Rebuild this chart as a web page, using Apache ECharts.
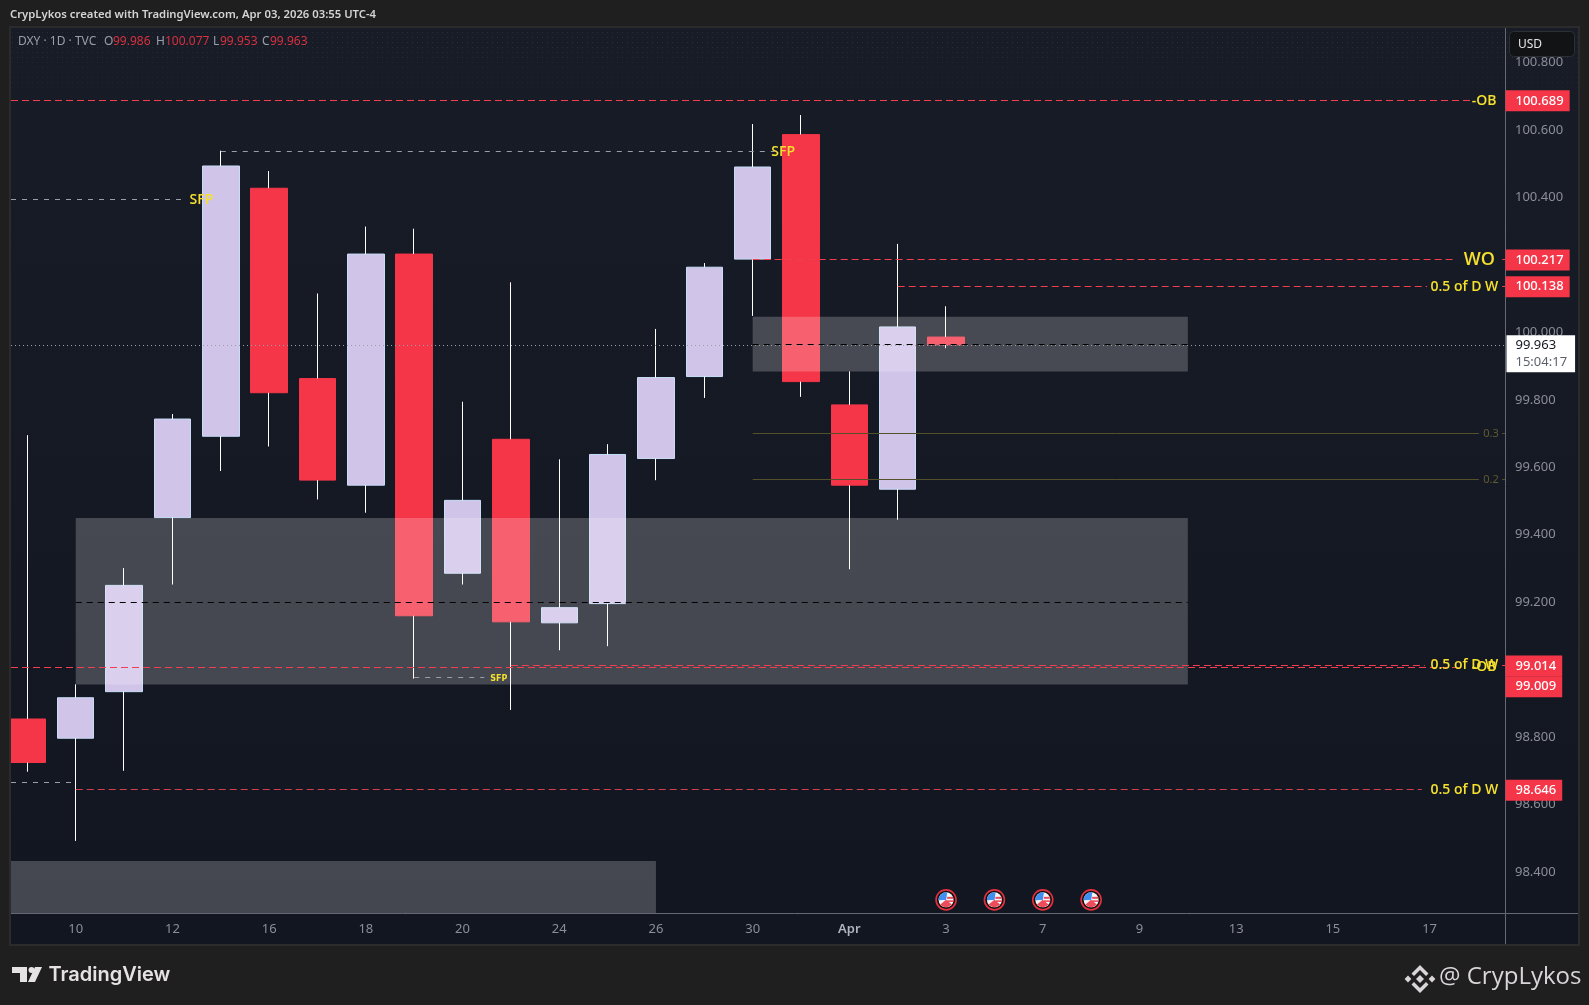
<!DOCTYPE html>
<html><head><meta charset="utf-8">
<style>html,body{margin:0;padding:0;background:#1f1f1f}#c{width:1589px;height:1005px}</style>
<script src="https://cdn.jsdelivr.net/npm/echarts@6/dist/echarts.min.js"></script>
</head><body><div id="c"></div>
<script>
// ---------- data ----------
const dateLabels = ['9','10','11','12','13','16','17','18','19','20','23','24','25','26','27','30','31','Apr','2','3','6','7','8','9','10','13','14','15','16','17','20'];
const opens  = [98.854,98.797,98.935,99.451,99.692,100.427,99.863,99.547,100.232,99.286,99.683,99.139,99.196,99.626,99.869,100.217,100.586,99.785,99.535,99.986];
const closes = [98.725,98.917,99.250,99.743,100.493,99.821,99.562,100.232,99.160,99.502,99.142,99.184,99.638,99.866,100.193,100.490,99.854,99.547,100.016,99.963];
const lows   = [98.698,98.493,98.701,99.253,99.589,99.662,99.505,99.466,98.974,99.253,98.881,99.058,99.070,99.562,99.806,100.049,99.809,99.298,99.445,99.953];
const highs  = [99.695,98.956,99.301,99.758,100.538,100.478,100.115,100.313,100.307,99.794,100.148,99.623,99.668,100.010,100.205,100.617,100.644,99.884,100.262,100.077];
const priceTicks = [98.4,98.6,98.8,99.2,99.4,99.6,99.8,100.0,100.4,100.6,100.8];
const timeTicks = [1,3,5,7,9,11,13,15,17,19,21,23,25,27,29];
const xMin = -0.339, xMax = 30.56, yMin = 98.279, yMax = 100.902;
// zones: [x1, x2, top, bottom]
const zones = [[15,24,100.046,99.884],[1,24,99.450,98.956],[xMin,13,98.433,yMin]];
// levels: [kind, x1, x2, price]
const levels = [
 ['red',xMin,29.88,100.689],
 ['red',15,29.55,100.217],['red',30.5,xMax,100.217],
 ['red',18,28.95,100.138],['red',30.5,xMax,100.138],
 ['red',10,28.9,99.014],['red',30.5,xMax,99.014],
 ['red',xMin,29.6,99.009],
 ['pale',1,28.84,98.646],
 ['grey',4,15.45,100.538],['grey',xMin,3.25,100.394],['grey',8,9.45,98.977],['grey',xMin,1,98.668],
 ['black',15,24,99.965],['black',1,24,99.202],
 ['dot',xMin,xMax,99.963],
 ['olive',15,30.02,99.701],['olive',30.5,xMax,99.701],['olive',15,30.02,99.565],['olive',30.5,xMax,99.565]
];
// notes: [kind, x, price, text]
const notes = [
 ['mid',30.13,100.689,'-OB'],['big',30.03,100.217,'WO'],['mid',29.72,100.138,'0.5 of D W'],
 ['mid',29.72,99.018,'0.5 of D W'],['mid',30.13,99.012,'-OB'],['mid',29.72,98.646,'0.5 of D W'],
 ['sfp',15.63,100.538,'SFP'],['sfp',3.6,100.394,'SFP'],['tiny',9.75,98.977,'SFP'],
 ['fib',30.27,99.701,'0.3'],['fib',30.27,99.565,'0.2']
];
// price tags: [price, text, row offset]
const priceTags = [[100.689,'100.689',1],[100.217,'100.217',1],[100.138,'100.138',1],[99.014,'99.014',1],[99.009,'99.009',20],[98.646,'98.646',1]];
const lastPrice = 99.963, lastTimer = '15:04:17';
const flagDays = [19,20,21,22], flagPrice = 98.318;
const legendSymbol = 'DXY · 1D · TVC';
const legendLetters = ['O','H','L','C'];
const legendValues = ['99.986','100.077','99.953','99.963'];
const headerText = 'CrypLykos created with TradingView.com, Apr 03, 2026 03:55 UTC-4';

// ---------- styles ----------
const RED='#f53648', UP='#d1c4e9', UPB='#c6dcf7', YEL='#f5e02e', AXC='#8b8e98', LINEC='#666973';
const FONT='"Noto Sans",sans-serif';
const lineStyles = {
 red:{stroke:'#f23e4f',lineDash:[7,4]}, pale:{stroke:'#d2404e',lineDash:[7,4]},
 grey:{stroke:'#9a9ea8',lineDash:[5,6]}, black:{stroke:'#000',lineDash:[6,5]},
 dot:{stroke:'#9a9ea8',lineDash:[1,3]}, olive:{stroke:'#54502a'}
};
const noteStyles = {
 mid:{fontSize:14,fontWeight:600,color:YEL,fontFamily:'"Open Sans",sans-serif'},
 big:{fontSize:18,fontWeight:600,color:YEL,fontFamily:'"Open Sans",sans-serif'},
 sfp:{fontSize:14,fontWeight:600,color:YEL,fontFamily:'"Open Sans",sans-serif'},
 tiny:{fontSize:8,fontWeight:600,color:YEL,fontFamily:'"DejaVu Sans",sans-serif'},
 fib:{fontSize:11,fontWeight:400,color:'#5f5b30',fontFamily:FONT}
};
const hiddenMark={color:'transparent',opacity:1};
// same column rule as the candlestick's own wick
const wickColumn=x=>{const d=Math.round(x*2);return (d+1)%2===0?d/2:(d-1)/2;};

const ohlc = opens.map((o,i)=>[i,o,closes[i],lows[i],highs[i]]);
const series = [];
series.push({type:'candlestick',name:'DXY',data:ohlc,z:2,barWidth:37,silent:true,clip:true,
  encode:{x:0,y:[1,2,3,4]},
  itemStyle:{color:UP,color0:RED,borderColor:UPB,borderColor0:RED,borderWidth:1}});
series.push({type:'custom',name:'wicks',data:ohlc,z:3,silent:true,clip:true,encode:{x:0,y:[1,2,3,4]},
  renderItem:(p,api)=>{
    const i=api.value(0),o=api.value(1),c=api.value(2),l=api.value(3),h=api.value(4);
    const x=wickColumn(api.coord([i,o])[0]);
    const yh=api.coord([i,h])[1],yt=api.coord([i,Math.max(o,c)])[1],yb=api.coord([i,Math.min(o,c)])[1],yl=api.coord([i,l])[1];
    const st={stroke:'#fff',lineWidth:1,fill:null};
    return {type:'group',children:[
      {type:'line',shape:{x1:x,y1:yh,x2:x,y2:yt},style:st},
      {type:'line',shape:{x1:x,y1:yb,x2:x,y2:yl},style:st}]};
  }});
series.push({type:'custom',name:'zones',data:zones,z:4,silent:true,clip:true,encode:{x:[0,1],y:[2,3]},
  renderItem:(p,api)=>{
    const a=api.coord([api.value(0),api.value(2)]),b=api.coord([api.value(1),api.value(3)]);
    return {type:'rect',shape:{x:a[0],y:a[1],width:b[0]-a[0],height:b[1]-a[1]},style:{fill:'rgba(255,255,255,0.21)'}};
  }});
series.push({type:'custom',name:'levels',z:5,silent:true,clip:true,
  data:levels.map(l=>[l[1],l[2],l[3]]),encode:{x:[0,1],y:2},
  renderItem:(p,api)=>{
    const a=api.coord([api.value(0),api.value(2)]),b=api.coord([api.value(1),api.value(2)]);
    const y=Math.round(a[1])+.5;
    return {type:'line',shape:{x1:a[0],y1:y,x2:b[0],y2:y},style:Object.assign({lineWidth:1,fill:null},lineStyles[levels[p.dataIndex][0]])};
  }});
notes.forEach(n=>series.push({type:'scatter',z:6,silent:true,clip:false,symbolSize:1,itemStyle:hiddenMark,
  data:[[n[1],n[2]]],label:Object.assign({show:true,position:'inside',offset:[0,1],formatter:n[3]},noteStyles[n[0]])}));
priceTags.forEach(t=>series.push({type:'scatter',z:8,silent:true,clip:false,symbolSize:1,itemStyle:hiddenMark,
  data:[[xMax,t[0]]],label:{show:true,position:'right',distance:0,offset:[0,t[2]],formatter:t[1],
    backgroundColor:RED,color:'#fff',fontFamily:FONT,fontSize:13,fontWeight:500,
    padding:[3,6,3,10],lineHeight:15}}));
series.push({type:'scatter',z:9,silent:true,clip:false,symbolSize:1,itemStyle:hiddenMark,
  data:[[xMax,lastPrice]],label:{show:true,position:'right',distance:0,offset:[1,9],
    formatter:'{a|'+lastPrice.toFixed(3)+'}\n{b|'+lastTimer+'}',backgroundColor:'#fff',padding:[1,8,1,9],
    rich:{a:{color:'#131722',fontFamily:FONT,fontSize:13,lineHeight:17},b:{color:'#5d606b',fontFamily:FONT,fontSize:13,lineHeight:18}}}});
series.push({type:'custom',name:'flags',z:7,silent:true,clip:false,data:flagDays.map(d=>[d,flagPrice]),encode:{x:0,y:1},
  renderItem:(p,api)=>{
    const c=api.coord([api.value(0),api.value(1)]),X=c[0],Y=c[1];
    const rect=(x,y,w,h,f)=>({type:'rect',shape:{x:X+x,y:Y+y,width:w,height:h},style:{fill:f}});
    return {type:'group',children:[
      {type:'circle',shape:{cx:X,cy:Y,r:10},style:{fill:'#111',stroke:'#e5303f',lineWidth:1.6}},
      {type:'circle',shape:{cx:X,cy:Y,r:7.5},style:{fill:'#f4f4f4'}},
      {type:'sector',shape:{cx:X,cy:Y,r:7.5,r0:0,startAngle:Math.PI*.98,endAngle:Math.PI*1.55},style:{fill:'#3f8ff0'}},
      rect(-7,-1,7,1,'#3f8ff0'),rect(-1,-7,1,6,'#3f8ff0'),
      rect(1,-3,6,2,'#ee4b5b'),rect(1,0.5,6.5,1.6,'#ee4b5b'),
      {type:'sector',shape:{cx:X,cy:Y,r:7.5,r0:0,startAngle:Math.PI*.22,endAngle:Math.PI*.78},style:{fill:'#ee4b5b'}},
    ]};
  }});

// ---------- chrome ----------
const dotCanvas=document.createElement('canvas');dotCanvas.width=5;dotCanvas.height=5;
(()=>{const g=dotCanvas.getContext('2d');g.fillStyle='rgba(255,255,255,0.07)';g.fillRect(2,2,1,1);})();
const diamond=(cx,cy,r)=>({type:'polygon',z:50,shape:{points:[[cx,cy-r],[cx+r,cy],[cx,cy+r],[cx-r,cy]]},style:{fill:'#d9d5d9'}});
const graphicEls=[
 {type:'rect',z:-5,shape:{x:10,y:27,width:1569,height:918},style:{fill:{type:'linear',x:0,y:0,x2:0,y2:1,colorStops:[{offset:0,color:'#181c27'},{offset:1,color:'#121621'}]}}},
 {type:'rect',z:-4,shape:{x:11,y:30,width:1567,height:30},style:{fill:{image:dotCanvas,repeat:'repeat'},opacity:1}},
 {type:'rect',z:-4,shape:{x:11,y:60,width:1567,height:32},style:{fill:{image:dotCanvas,repeat:'repeat'},opacity:.5}},
 {type:'line',z:1,shape:{x1:1505.5,y1:28,x2:1505.5,y2:945},style:{stroke:LINEC,lineWidth:1}},
 {type:'line',z:1,shape:{x1:11,y1:913.5,x2:1578,y2:913.5},style:{stroke:LINEC,lineWidth:1}},
 {type:'rect',z:40,shape:{x:10,y:27,width:1569,height:918},style:{fill:null,stroke:'#2b2b2b',lineWidth:2}},
 {type:'rect',z:39,shape:{x:0,y:0,width:9,height:1005},style:{fill:'#1f1f1f'}},
 {type:'text',z:50,style:{x:10,y:15,text:headerText,fill:'#d4d4d4',font:'600 11.3px '+FONT,verticalAlign:'middle'}},
 {type:'text',z:50,style:{x:18,y:42,text:legendSymbol,fill:'#9a9ea8',font:'12px '+FONT,verticalAlign:'middle'}},
];
const legendLetterX=[104,156,213,262], legendValueX=[113,165,220,270];
legendLetters.forEach((l,i)=>{
  graphicEls.push({type:'text',z:50,style:{x:legendLetterX[i],y:42,text:l,fill:'#9a9ea8',font:'12px '+FONT,verticalAlign:'middle'}});
  graphicEls.push({type:'text',z:50,style:{x:legendValueX[i],y:42,text:legendValues[i],fill:'#d8303f',font:'12px '+FONT,verticalAlign:'middle'}});
});
graphicEls.push(
 {type:'rect',z:50,shape:{x:1509.5,y:31.5,width:65,height:25,r:4},style:{fill:'#121315',stroke:'#2e2f33',lineWidth:1}},
 {type:'text',z:51,style:{x:1518,y:45,text:'USD',fill:'#e6e6e6',font:'12px '+FONT,verticalAlign:'middle'}},
 // TradingView mark
 {type:'polygon',z:50,shape:{points:[[12,967],[27,967],[27,982],[20,982],[20,973],[12,973]]},style:{fill:'#e6e2e4'}},
 {type:'circle',z:50,shape:{cx:31.5,cy:970,r:3},style:{fill:'#e6e2e4'}},
 {type:'polygon',z:50,shape:{points:[[35,967],[42,967],[35,982],[28,982]]},style:{fill:'#e6e2e4'}},
 {type:'text',z:50,style:{x:48.5,y:975,text:'TradingView',fill:'#e6e2e4',font:'600 20px Inter,sans-serif',verticalAlign:'middle'}},
 // exchange mark
 diamond(1420,979,4),diamond(1408,979,3.4),diamond(1432,979,3.4),
 {type:'polygon',z:50,shape:{points:[[1420,965],[1428.5,973.5],[1426,976],[1420,970],[1414,976],[1411.5,973.5]]},style:{fill:'#d9d5d9'}},
 {type:'polygon',z:50,shape:{points:[[1420,993],[1428.5,984.5],[1426,982],[1420,988],[1414,982],[1411.5,984.5]]},style:{fill:'#d9d5d9'}},
 {type:'text',z:50,style:{x:1439,y:977,text:'@ CrypLykos',fill:'#d9d5d9',font:'24px "Open Sans",sans-serif',verticalAlign:'middle',shadowColor:'#000',shadowBlur:2,shadowOffsetX:1,shadowOffsetY:1}}
);

const chart=echarts.init(document.getElementById('c'),null,{renderer:'canvas',width:1589,height:1005});
chart.setOption({
  animation:false,backgroundColor:'#1f1f1f',
  grid:{left:11,right:84,top:28,bottom:92,show:false},
  tooltip:{show:false},
  xAxis:{type:'value',min:xMin,max:xMax,scale:true,splitLine:{show:false},axisTick:{show:false},axisLine:{show:false},
    axisLabel:{customValues:timeTicks,margin:10,color:AXC,fontFamily:FONT,fontSize:13,hideOverlap:false,
      formatter:v=>dateLabels[v]==='Apr'?'{b|Apr}':dateLabels[v],rich:{b:{color:'#b2b5be',fontFamily:FONT,fontSize:13,fontWeight:600}}}},
  yAxis:{type:'value',position:'right',min:yMin,max:yMax,scale:true,splitLine:{show:false},axisTick:{show:false},axisLine:{show:false},
    axisLabel:{customValues:priceTicks,margin:10,color:AXC,fontFamily:FONT,fontSize:13,hideOverlap:false,formatter:v=>v.toFixed(3)}},
  graphic:{elements:graphicEls},
  series
});
</script></body></html>
